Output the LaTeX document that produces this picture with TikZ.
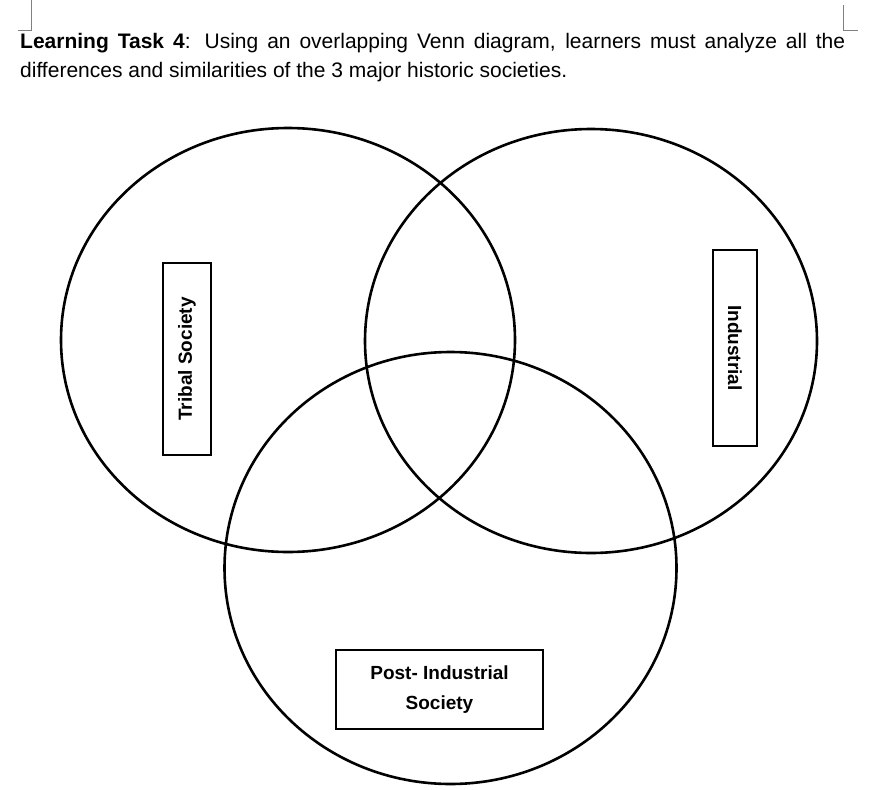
\documentclass[tikz,border=0pt]{standalone}
\usepackage{fontspec}
\setmainfont{Liberation Sans}
\begin{document}
\begin{tikzpicture}[x=1pt,y=-1pt,
  venn/.style={line width=2.6pt},
  lbl/.style={draw,line width=1.6pt,font=\bfseries\fontsize{19}{24}\selectfont,inner sep=0pt,align=center},
  crop/.style={line width=0.8pt,gray}]
\useasboundingbox (0,0) rectangle (876,790);
\draw[crop] (18,30) -- (31,30) -- (31,0);
\draw[crop] (843,5) -- (843,30) -- (858,30);
\node[anchor=north west,inner sep=0pt,align=left,font=\fontsize{21}{29}\selectfont] (title) at (20,33)
 {\makebox[825pt][s]{\textbf{Learning Task 4}: Using an overlapping Venn diagram, learners must analyze all the}\\
 differences and similarities of the 3 major historic societies.};
\draw[venn] (288,340) ellipse[x radius=227, y radius=212];
\draw[venn] (591,341) ellipse[x radius=226, y radius=212];
\draw[venn] (450.5,568) ellipse[x radius=226, y radius=216];
\node[lbl,minimum width=192pt,minimum height=48pt,rotate=90] (tribal) at (187,359) {Tribal Society};
\node[lbl,minimum width=196pt,minimum height=44pt,rotate=-90] (ind) at (735,348) {Industrial};
\node[lbl,minimum width=207pt,minimum height=79pt] (post) at (439.5,689.5) {Post- Industrial\\[6pt]Society};
\end{tikzpicture}
\end{document}
